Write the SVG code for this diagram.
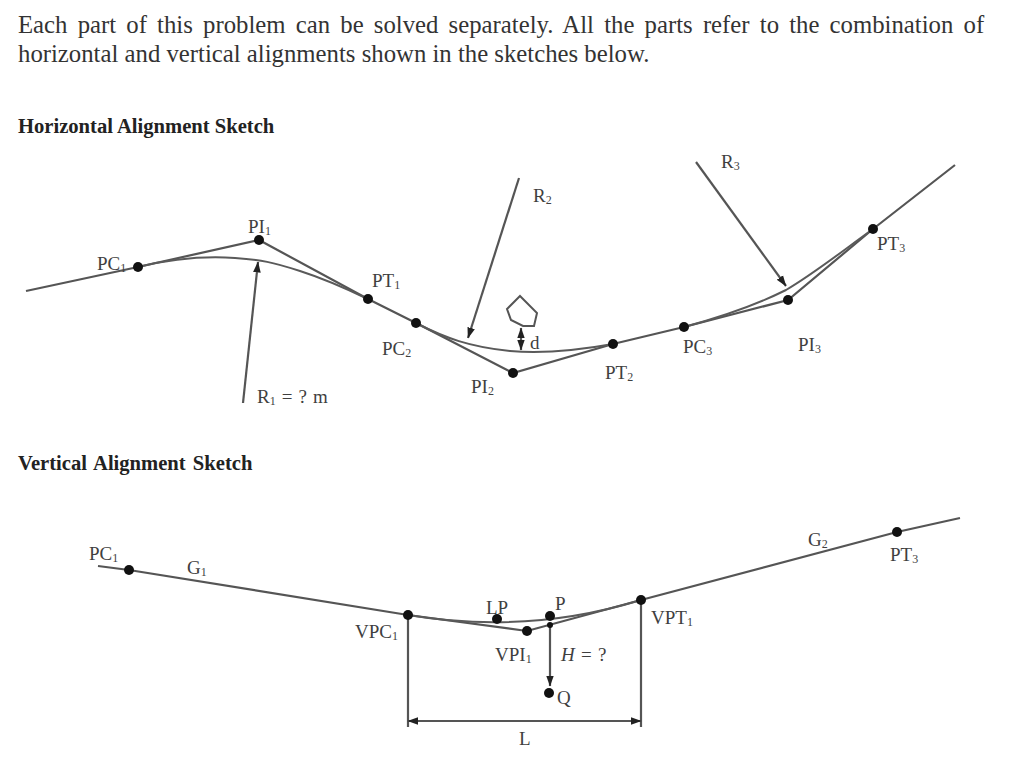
<svg xmlns="http://www.w3.org/2000/svg" width="1024" height="766" viewBox="0 0 1024 766">
<defs>
<marker id="ah" viewBox="0 0 10 10" refX="9.5" refY="5" markerWidth="11" markerHeight="11" markerUnits="userSpaceOnUse" orient="auto-start-reverse"><path d="M0 1.5 L10 5 L0 8.5 Z" fill="#222"/></marker>
</defs>
<style>
text{font-family:"Liberation Serif","Times New Roman",serif;fill:#3f3f3f;font-size:19px}
.body{font-size:24.75px;fill:#333}
.h{font-size:20.6px;font-weight:bold;fill:#222}
.s{font-size:12px}
.l{fill:none;stroke:#555;stroke-width:2.2}
.t{fill:none;stroke:#5a5a5a;stroke-width:2}
.a{fill:none;stroke:#555;stroke-width:2.2;marker-end:url(#ah)}
.d{fill:#111}
</style>
<rect width="1024" height="766" fill="#fff"/>
<g id="intro">
<text class="body" x="18" y="33" word-spacing="4">Each part of this problem can be solved separately. All the parts refer to the combination of</text>
<text class="body" x="18" y="62">horizontal and vertical alignments shown in the sketches below.</text>
<text class="h" x="18" y="133">Horizontal Alignment Sketch</text>
<text class="h" x="18" y="470" word-spacing="2">Vertical Alignment Sketch</text>
</g>
<g id="connectors">
<path class="l" d="M26 291 L138 267 L259 240 L368 299 L416 323 L513 373 L613 344 L684 327 L788 300 L873 229 L955 165"/>
<path class="t" d="M138 267 C175 258 205 256 235 258 C262 260 272 262 300 271 C325 279 345 288 368 299"/>
<path class="t" d="M416 323 C445 338 470 347 510 351 C545 354 580 350 613 344"/>
<path class="t" d="M684 327 C725 316 760 303 786 290 C815 273 845 249 873 229"/>
<path class="a" d="M243 403 L258 262"/>
<path class="a" d="M519 178 L468 338"/>
<path class="a" d="M696 162 L786 286"/>
<path class="a" d="M521 339 L521 350"/>
<path class="a" d="M521 339 L521 328"/>
<path class="l" d="M98 566 L129 570 L408 615 L527 631 L641 600 L897 532 L960 518"/>
<path class="t" d="M408 615 Q527 635 641 600"/>
<path class="l" d="M408 615 L408 727 M641 600 L641 727"/>
<path class="a" d="M525 721 L408 721"/>
<path class="a" d="M525 721 L641 721"/>
<path class="a" d="M550 625 L550 686"/>
</g>
<g id="obstacle"><path d="M520 296 L537 313 L534 326 L523 326 L511 320 L507 309 Z" fill="none" stroke="#555" stroke-width="2"/></g>
<g id="PC1"><circle class="d" cx="138" cy="267" r="5"/><text x="97" y="270">PC<tspan class="s" dy="2">1</tspan></text></g>
<g id="PI1"><circle class="d" cx="259" cy="240" r="5"/><text x="248" y="233">PI<tspan class="s" dy="2">1</tspan></text></g>
<g id="PT1"><circle class="d" cx="368" cy="299" r="5"/><text x="372" y="287">PT<tspan class="s" dy="2">1</tspan></text></g>
<g id="PC2"><circle class="d" cx="416" cy="323" r="5"/><text x="382" y="355">PC<tspan class="s" dy="2">2</tspan></text></g>
<g id="PI2"><circle class="d" cx="513" cy="373" r="5"/><text x="471" y="393">PI<tspan class="s" dy="2">2</tspan></text></g>
<g id="PT2"><circle class="d" cx="613" cy="344" r="5"/><text x="605" y="379">PT<tspan class="s" dy="2">2</tspan></text></g>
<g id="PC3"><circle class="d" cx="684" cy="327" r="5"/><text x="683" y="353">PC<tspan class="s" dy="2">3</tspan></text></g>
<g id="PI3"><circle class="d" cx="788" cy="300" r="5"/><text x="798" y="351">PI<tspan class="s" dy="2">3</tspan></text></g>
<g id="PT3"><circle class="d" cx="873" cy="229" r="5"/><text x="877" y="250">PT<tspan class="s" dy="2">3</tspan></text></g>
<g id="labels-h">
<text x="257" y="403" word-spacing="1.3">R<tspan class="s" dy="2">1</tspan><tspan dy="-2"> = ? m</tspan></text>
<text x="533" y="202">R<tspan class="s" dy="2">2</tspan></text>
<text x="721" y="168">R<tspan class="s" dy="2">3</tspan></text>
<text x="530" y="349">d</text>
</g>
<g id="vPC1"><circle class="d" cx="129" cy="570" r="5"/><text x="89" y="560">PC<tspan class="s" dy="2">1</tspan></text></g>
<g id="vVPC1"><circle class="d" cx="408" cy="615" r="5"/><text x="355" y="638">VPC<tspan class="s" dy="2">1</tspan></text></g>
<g id="vLP"><circle class="d" cx="497" cy="619" r="5"/><text x="486" y="614">LP</text></g>
<g id="vVPI1"><circle class="d" cx="527" cy="631" r="5"/><text x="495" y="661">VPI<tspan class="s" dy="2">1</tspan></text></g>
<g id="vP"><circle class="d" cx="550" cy="616" r="5"/><circle class="d" cx="550" cy="625" r="3"/><text x="555" y="610">P</text></g>
<g id="vQ"><circle class="d" cx="549" cy="693" r="5"/><text x="557" y="704">Q</text></g>
<g id="vVPT1"><circle class="d" cx="641" cy="600" r="5"/><text x="651" y="624">VPT<tspan class="s" dy="2">1</tspan></text></g>
<g id="vPT3"><circle class="d" cx="897" cy="532" r="5"/><text x="890" y="561">PT<tspan class="s" dy="2">3</tspan></text></g>
<g id="labels-v">
<text x="187" y="574">G<tspan class="s" dy="2">1</tspan></text>
<text x="808" y="546">G<tspan class="s" dy="2">2</tspan></text>
<text x="561" y="661" word-spacing="1.5"><tspan font-style="italic">H</tspan> = ?</text>
<text x="519" y="745">L</text>
</g>
</svg>
